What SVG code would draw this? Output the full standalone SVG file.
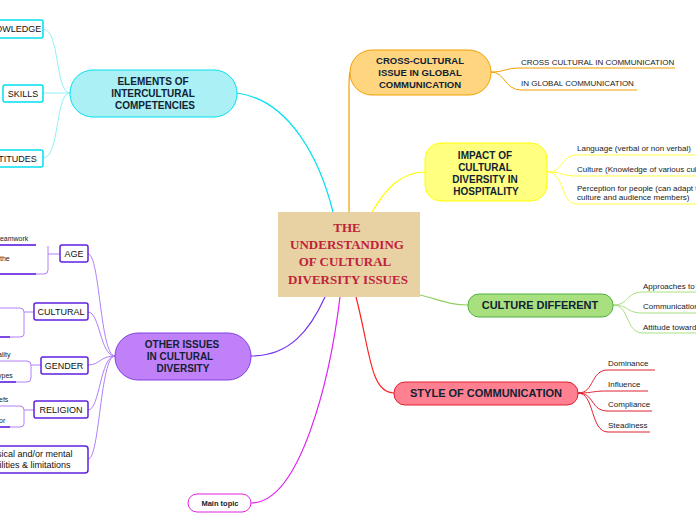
<svg xmlns="http://www.w3.org/2000/svg" width="696" height="520" viewBox="0 0 696 520">
<style>
text{font-family:"Liberation Sans",Arial,sans-serif;}
.t{font-size:8px;fill:#222}
.b{font-size:10px;font-weight:bold;fill:#123;text-anchor:middle}
.s{font-size:9px;fill:#111;text-anchor:middle}
path{fill:none}
</style>
<g id="connectors">
<path d="M333,212 C320,160 290,100 237,93" stroke="#00e0f0" stroke-width="1.2"/>
<path d="M70,93 C55,93 60,29 43,29" stroke="#90f0f8"/>
<path d="M70,93 L43,93" stroke="#90f0f8"/>
<path d="M70,93 C55,93 60,158 43,158" stroke="#90f0f8"/>
<path d="M349,212 L349,90 C349,75 350,72 350,72" stroke="#f0a000" stroke-width="1.2"/>
<path d="M491,72 C505,72 505,68 521,68 L675,68" stroke="#f0a000"/>
<path d="M491,72 C505,72 505,90 521,90 L637,90" stroke="#f0a000"/>
<path d="M372,212 C385,190 400,172 425,172" stroke="#ffff00" stroke-width="1.2"/>
<path d="M547,172 C565,172 560,155 577,155 L696,155" stroke="#ffff40"/>
<path d="M547,172 C565,172 560,176 577,176 L696,176" stroke="#ffff40"/>
<path d="M547,172 C565,172 560,204 577,204 L696,204" stroke="#ffff40"/>
<path d="M420,295 C440,300 450,305 468,305" stroke="#90d060" stroke-width="1.2"/>
<path d="M613,305 C630,305 625,292 643,292 L696,292" stroke="#a8e080"/>
<path d="M613,305 C630,305 625,313 643,313 L696,313" stroke="#a8e080"/>
<path d="M613,305 C630,305 625,333 643,333 L696,333" stroke="#a8e080"/>
<path d="M356,297 C370,350 370,393 394,393" stroke="#ff2020" stroke-width="1.2"/>
<path d="M578,393 C595,393 590,370 608,370 L655,370" stroke="#e02030"/>
<path d="M578,393 C595,393 590,391 608,391 L648,391" stroke="#e02030"/>
<path d="M578,393 C595,393 590,411 608,411 L652,411" stroke="#e02030"/>
<path d="M578,393 C595,393 590,432 608,432 L650,432" stroke="#e02030"/>
<path d="M325,297 C310,330 290,356 251,356" stroke="#7030f0" stroke-width="1.2"/>
<path d="M115,356 C100,356 100,254 88,254" stroke="#b080f8"/>
<path d="M115,356 C100,356 100,312 88,312" stroke="#b080f8"/>
<path d="M115,356 C100,356 100,365 88,365" stroke="#b080f8"/>
<path d="M115,356 C100,356 100,410 88,410" stroke="#b080f8"/>
<path d="M115,356 C100,356 100,459 88,459" stroke="#b080f8"/>
<path d="M60,254 L48,254 M36,245 L0,245 M48,246 L48,270 Q48,274 44,274 L36,274 L0,274" stroke="#b080f8"/>
<path d="M36,274 L0,274" stroke="#6020e0" stroke-width="1.5"/>
<path d="M36,245 L0,245" stroke="#6020e0" stroke-width="1.5"/>
<path d="M34,312 L24,312 M24,312 L24,334 Q24,337 20,337 L0,337 M0,308 L20,308 Q24,308 24,312" stroke="#b080f8"/>
<path d="M0,337 L10,337" stroke="#6020e0" stroke-width="1.5"/>
<path d="M41,365 L31,365 L31,378 Q31,382 27,382 L0,382 M0,361 L27,361 Q31,361 31,365" stroke="#b080f8"/>
<path d="M0,382 L16,382" stroke="#6020e0" stroke-width="1.5"/>
<path d="M34,410 L24,410 L24,424 Q24,427 20,427 L0,427 M0,406 L20,406 Q24,406 24,410" stroke="#b080f8"/>
<path d="M0,427 L10,427" stroke="#6020e0" stroke-width="1.5"/>
<path d="M340,297 C330,380 300,503 251,503" stroke="#e020f0" stroke-width="1.2"/>
</g>
<g id="central">
<rect x="278" y="212" width="142" height="85" fill="#e8d1a3"/>
<g font-family="'Liberation Serif',serif" font-weight="bold" font-size="13" fill="#c0213a" text-anchor="middle">
<text x="347" y="232" style="font-family:'Liberation Serif',serif">THE</text>
<text x="347" y="249" style="font-family:'Liberation Serif',serif">UNDERSTANDING</text>
<text x="345" y="266" style="font-family:'Liberation Serif',serif">OF CULTURAL</text>
<text x="348" y="284" style="font-family:'Liberation Serif',serif">DIVERSITY ISSUES</text>
</g>
</g>
<g id="elements">
<rect x="70" y="70" width="167" height="47" rx="23" fill="#aaf0f5" stroke="#00e0f0"/>
<text class="b" x="153" y="85">ELEMENTS OF</text><text class="b" x="153" y="97">INTERCULTURAL</text><text class="b" x="155" y="109">COMPETENCIES</text>
</g>
<g id="knowledge"><rect x="-20" y="20" width="63" height="18" rx="2" fill="#fff" stroke="#00e0f0" stroke-width="1.5"/><text class="s" x="12" y="32">KNOWLEDGE</text></g>
<g id="skills"><rect x="3" y="85" width="40" height="17" rx="2" fill="#fff" stroke="#00e0f0" stroke-width="1.5"/><text class="s" x="23" y="97">SKILLS</text></g>
<g id="attitudes"><rect x="-20" y="150" width="63" height="17" rx="2" fill="#fff" stroke="#00e0f0" stroke-width="1.5"/><text class="s" x="12" y="162">ATTITUDES</text></g>
<g id="cross">
<rect x="350" y="50" width="141" height="45" rx="22" fill="#ffd580" stroke="#f0a000"/>
<text class="b" x="420" y="64" style="font-size:9.5px">CROSS-CULTURAL</text><text class="b" x="420" y="76" style="font-size:9.5px">ISSUE IN GLOBAL</text><text class="b" x="420" y="88" style="font-size:9.5px">COMMUNICATION</text>
<text class="t" x="521" y="65">CROSS CULTURAL IN COMMUNICATION</text>
<text class="t" x="521" y="86">IN GLOBAL COMMUNICATION</text>
</g>
<g id="impact">
<rect x="425" y="143" width="122" height="58" rx="16" fill="#ffff80" stroke="#ffff00"/>
<text class="b" x="485" y="159">IMPACT OF</text><text class="b" x="485" y="171">CULTURAL</text><text class="b" x="485" y="183">DIVERSITY IN</text><text class="b" x="486" y="195">HOSPITALITY</text>
<text class="t" x="577" y="151">Language (verbal or non verbal)</text>
<text class="t" x="577" y="172">Culture (Knowledge of various cultures)</text>
<text class="t" x="577" y="191">Perception for people (can adapt to</text>
<text class="t" x="577" y="200">culture and audience members)</text>
</g>
<g id="culture-different">
<rect x="468" y="294" width="145" height="23" rx="11" fill="#a8e080" stroke="#50b040"/>
<text class="b" x="540" y="309" style="font-size:11px">CULTURE DIFFERENT</text>
<text class="t" x="643" y="289">Approaches to</text>
<text class="t" x="643" y="309">Communication</text>
<text class="t" x="643" y="330">Attitude towards</text>
</g>
<g id="style">
<rect x="394" y="382" width="184" height="23" rx="11" fill="#ff8090" stroke="#e02030"/>
<text class="b" x="486" y="397" style="font-size:11px">STYLE OF COMMUNICATION</text>
<text class="t" x="608" y="366">Dominance</text>
<text class="t" x="608" y="387">Influence</text>
<text class="t" x="608" y="407">Compliance</text>
<text class="t" x="608" y="428">Steadiness</text>
</g>
<g id="other">
<rect x="115" y="333" width="136" height="47" rx="23" fill="#c080f8" stroke="#8040e0"/>
<text class="b" x="182" y="348">OTHER ISSUES</text><text class="b" x="180" y="360">IN CULTURAL</text><text class="b" x="183" y="372">DIVERSITY</text>
</g>
<g id="age"><rect x="60" y="245" width="28" height="17" rx="2" fill="#fff" stroke="#6020e0" stroke-width="1.5"/><text class="s" x="74" y="257">AGE</text>
<text class="t" x="-2" y="241" style="font-size:7px">teamwork</text><text class="t" x="0" y="261" style="font-size:7px">the</text></g>
<g id="cultural"><rect x="34" y="303" width="54" height="17" rx="2" fill="#fff" stroke="#6020e0" stroke-width="1.5"/><text class="s" x="61" y="315">CULTURAL</text></g>
<g id="gender"><rect x="41" y="357" width="47" height="17" rx="2" fill="#fff" stroke="#6020e0" stroke-width="1.5"/><text class="s" x="64" y="369">GENDER</text>
<text class="t" x="-2" y="357" style="font-size:7px">ality</text><text class="t" x="-2" y="378" style="font-size:7px">ypes</text></g>
<g id="religion"><rect x="34" y="401" width="54" height="17" rx="2" fill="#fff" stroke="#6020e0" stroke-width="1.5"/><text class="s" x="61" y="413">RELIGION</text>
<text class="t" x="-1" y="402" style="font-size:7px">efs</text><text class="t" x="-1" y="423" style="font-size:7px">or</text></g>
<g id="physical"><rect x="-20" y="446" width="108" height="27" rx="3" fill="#fff" stroke="#6020e0" stroke-width="1.5"/><text class="s" x="30" y="457">hysical and/or mental</text><text class="s" x="30" y="468">abilities &amp; limitations</text></g>
<g id="main-topic"><rect x="188" y="494" width="63" height="18" rx="9" fill="#fff" stroke="#e020e0"/><text class="b" x="220" y="506" style="font-size:7.5px">Main topic</text></g>
</svg>
